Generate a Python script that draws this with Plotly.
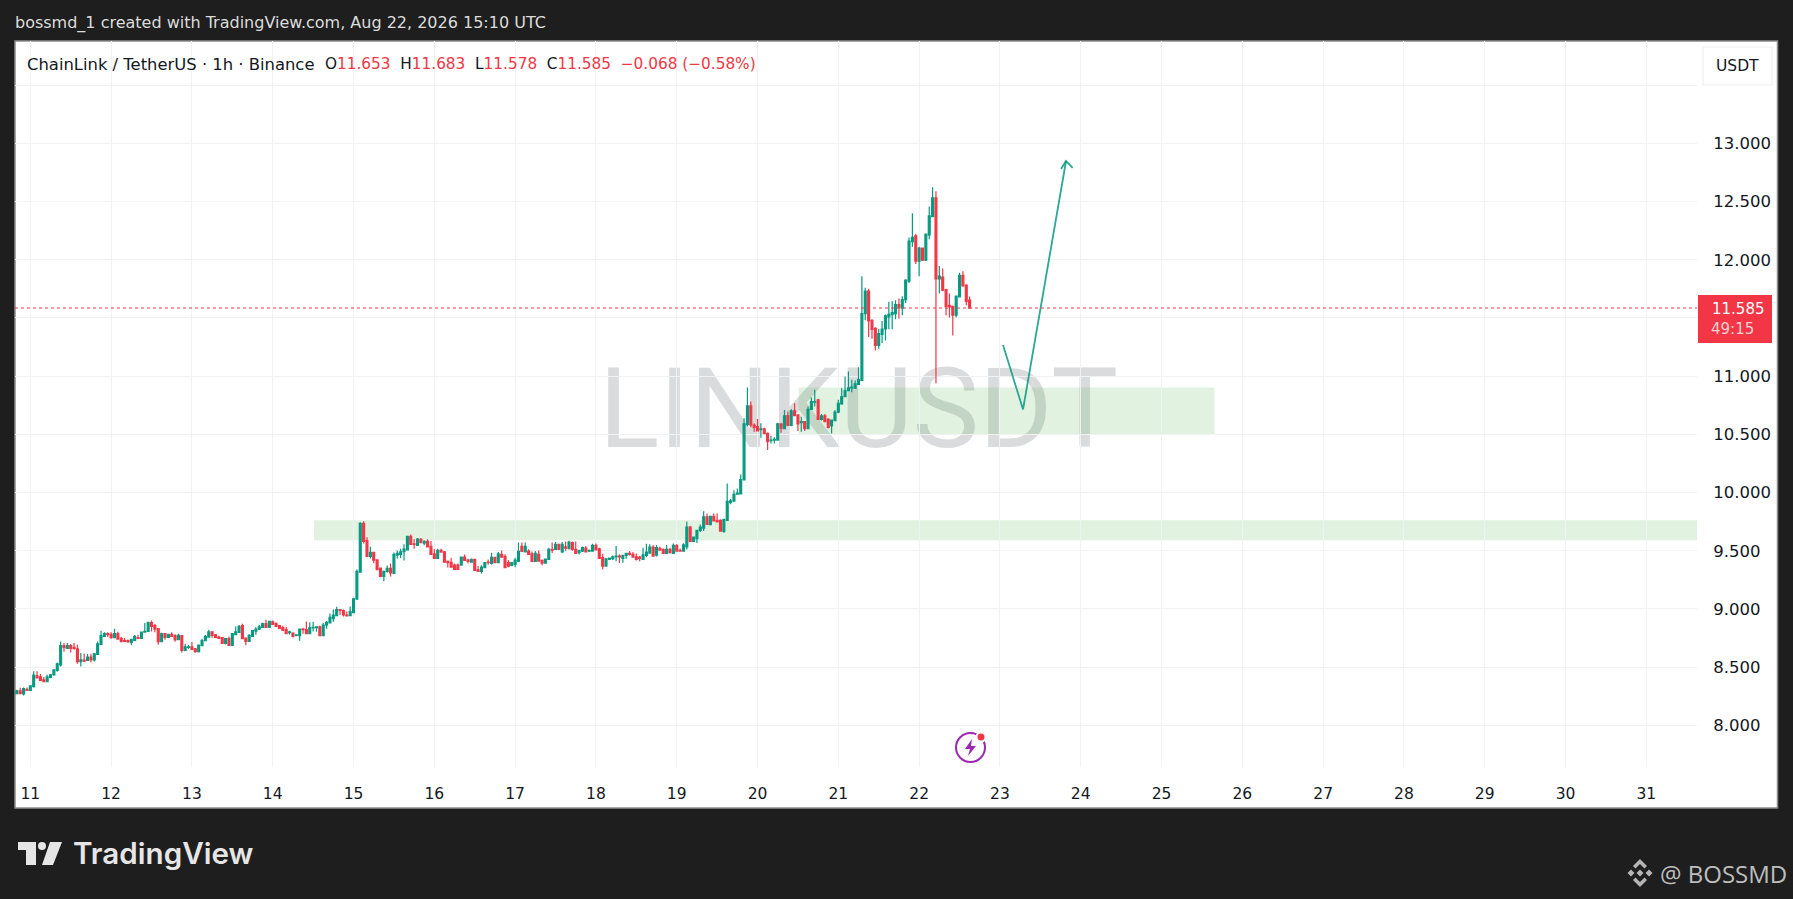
import pandas as pd
import plotly.graph_objects as go

# ---------- values ----------
first_candle = "2026-08-10 20:00"
opens = [
8.273,8.296,8.270,8.310,8.299,8.333,8.425,8.416,8.391,8.376,
8.411,8.434,8.471,8.520,8.684,8.661,8.684,8.669,8.658,8.546,
8.560,8.557,8.586,8.563,8.609,8.695,8.764,8.787,8.781,8.753,
8.787,8.747,8.727,8.727,8.713,8.730,8.753,8.747,8.801,8.807,
8.882,8.856,8.830,8.718,8.787,8.756,8.781,8.770,8.735,8.770,
8.644,8.669,8.675,8.658,8.632,8.684,8.727,8.758,8.804,8.778,
8.758,8.753,8.704,8.744,8.687,8.778,8.799,8.856,8.750,8.721,
8.764,8.810,8.827,8.842,8.873,8.842,8.890,8.873,8.856,8.839,
8.822,8.796,8.793,8.773,8.770,8.827,8.822,8.787,8.836,8.840,
8.847,8.770,8.862,8.879,8.917,8.943,8.994,8.985,8.948,8.943,
8.968,9.083,9.316,9.735,9.586,9.451,9.486,9.422,9.350,9.279,
9.322,9.348,9.305,9.462,9.468,9.491,9.508,9.624,9.560,9.546,
9.598,9.566,9.580,9.537,9.474,9.434,9.503,9.491,9.408,9.400,
9.377,9.377,9.377,9.445,9.420,9.402,9.425,9.336,9.322,9.354,
9.402,9.391,9.443,9.397,9.468,9.451,9.397,9.374,9.382,9.408,
9.537,9.489,9.497,9.474,9.408,9.468,9.417,9.394,9.425,9.512,
9.512,9.555,9.489,9.534,9.517,9.569,9.512,9.483,9.497,9.523,
9.497,9.497,9.546,9.517,9.440,9.368,9.425,9.431,9.448,9.454,
9.434,9.460,9.477,9.468,9.448,9.445,9.425,9.460,9.480,9.532,
9.463,9.520,9.512,9.477,9.512,9.477,9.546,9.503,9.497,9.533,
9.704,9.580,9.603,9.675,9.695,9.790,9.724,9.796,9.761,9.761,
9.666,9.761,9.916,9.925,9.985,9.988,10.109,10.583,10.744,10.580,
10.566,10.540,10.546,10.508,10.445,10.451,10.451,10.589,10.549,10.661,
10.577,10.701,10.667,10.600,10.609,10.549,10.715,10.776,10.796,10.629,
10.658,10.629,10.572,10.618,10.690,10.761,10.824,10.876,10.899,10.897,
10.928,10.963,11.537,11.730,11.480,11.411,11.264,11.359,11.405,11.508,
11.528,11.537,11.615,11.583,11.658,11.816,12.155,12.204,11.988,12.100,
11.997,12.213,12.371,12.532,11.836,11.850,11.744,11.609,11.600,11.523,
11.681,11.865,11.782,11.653]
highs = [
8.305,8.322,8.325,8.325,8.342,8.465,8.465,8.442,8.416,8.434,
8.440,8.480,8.540,8.720,8.707,8.707,8.698,8.707,8.692,8.621,
8.615,8.612,8.615,8.621,8.720,8.813,8.799,8.799,8.799,8.830,
8.804,8.758,8.750,8.738,8.738,8.776,8.778,8.801,8.879,8.890,
8.900,8.870,8.835,8.796,8.790,8.787,8.799,8.782,8.787,8.775,
8.701,8.693,8.715,8.665,8.690,8.744,8.776,8.822,8.808,8.785,
8.770,8.755,8.745,8.764,8.793,8.848,8.862,8.873,8.755,8.784,
8.815,8.842,8.865,8.882,8.908,8.893,8.900,8.885,8.862,8.856,
8.845,8.813,8.800,8.782,8.827,8.839,8.893,8.885,8.890,8.850,
8.856,8.882,8.896,8.960,8.994,9.018,9.000,8.994,8.977,9.020,
9.095,9.339,9.745,9.753,9.615,9.535,9.490,9.425,9.355,9.330,
9.374,9.391,9.485,9.503,9.517,9.555,9.625,9.640,9.598,9.610,
9.610,9.589,9.598,9.583,9.512,9.517,9.517,9.497,9.416,9.440,
9.391,9.391,9.450,9.468,9.431,9.434,9.428,9.368,9.376,9.402,
9.425,9.483,9.448,9.490,9.503,9.470,9.420,9.400,9.440,9.570,
9.570,9.570,9.512,9.494,9.497,9.503,9.425,9.430,9.525,9.570,
9.575,9.560,9.575,9.580,9.585,9.580,9.580,9.503,9.537,9.540,
9.510,9.560,9.563,9.525,9.474,9.435,9.440,9.460,9.540,9.470,
9.462,9.480,9.497,9.488,9.477,9.454,9.525,9.560,9.555,9.546,
9.550,9.535,9.520,9.550,9.525,9.563,9.555,9.520,9.565,9.750,
9.712,9.620,9.680,9.725,9.839,9.819,9.800,9.819,9.819,9.770,
9.770,10.078,9.945,10.020,10.035,10.155,10.638,10.902,10.782,10.595,
10.632,10.595,10.557,10.515,10.488,10.474,10.600,10.595,10.710,10.695,
10.715,10.767,10.672,10.652,10.615,10.738,10.816,10.882,10.805,10.675,
10.675,10.640,10.625,10.710,10.796,10.899,10.997,11.040,10.968,10.963,
11.077,11.859,11.760,11.750,11.488,11.420,11.408,11.474,11.530,11.638,
11.643,11.652,11.666,11.687,11.833,12.190,12.399,12.221,12.112,12.105,
12.225,12.457,12.623,12.589,11.945,11.925,11.750,11.710,11.605,11.690,
11.888,11.902,11.790,11.683]
lows = [
8.268,8.273,8.256,8.296,8.296,8.325,8.405,8.385,8.376,8.376,
8.405,8.425,8.460,8.506,8.632,8.660,8.626,8.650,8.528,8.506,
8.545,8.552,8.540,8.549,8.609,8.690,8.764,8.758,8.744,8.753,
8.740,8.712,8.720,8.707,8.687,8.725,8.745,8.745,8.796,8.807,
8.807,8.799,8.692,8.718,8.735,8.752,8.760,8.718,8.735,8.626,
8.640,8.655,8.650,8.623,8.625,8.684,8.727,8.758,8.753,8.755,
8.745,8.703,8.695,8.687,8.687,8.775,8.795,8.744,8.687,8.721,
8.763,8.778,8.820,8.840,8.842,8.842,8.865,8.845,8.830,8.815,
8.785,8.781,8.755,8.765,8.727,8.787,8.787,8.787,8.807,8.803,
8.770,8.770,8.830,8.875,8.890,8.943,8.950,8.936,8.936,8.940,
8.968,9.083,9.316,9.563,9.451,9.434,9.393,9.330,9.272,9.238,
9.310,9.279,9.305,9.434,9.437,9.416,9.508,9.555,9.517,9.546,
9.565,9.548,9.531,9.468,9.434,9.434,9.485,9.402,9.355,9.358,
9.338,9.338,9.375,9.416,9.390,9.400,9.329,9.320,9.304,9.350,
9.380,9.382,9.395,9.392,9.445,9.352,9.358,9.367,9.358,9.405,
9.494,9.485,9.468,9.408,9.408,9.410,9.375,9.390,9.425,9.480,
9.510,9.510,9.478,9.500,9.510,9.500,9.475,9.468,9.490,9.486,
9.490,9.495,9.505,9.434,9.339,9.365,9.420,9.420,9.410,9.395,
9.397,9.431,9.460,9.445,9.415,9.410,9.425,9.445,9.478,9.454,
9.450,9.500,9.475,9.473,9.477,9.475,9.497,9.495,9.495,9.510,
9.580,9.575,9.566,9.660,9.669,9.725,9.720,9.750,9.745,9.665,
9.655,9.755,9.900,9.920,9.980,9.988,10.109,10.570,10.560,10.523,
10.525,10.471,10.505,10.365,10.422,10.422,10.445,10.514,10.549,10.575,
10.570,10.660,10.528,10.523,10.529,10.549,10.710,10.740,10.628,10.618,
10.605,10.550,10.508,10.615,10.680,10.755,10.820,10.870,10.862,10.890,
10.925,10.960,11.480,11.336,11.322,11.221,11.235,11.284,11.307,11.402,
11.402,11.488,11.494,11.523,11.629,11.800,12.112,11.963,11.859,11.990,
11.990,12.175,12.370,10.939,11.710,11.730,11.523,11.503,11.350,11.503,
11.680,11.767,11.609,11.578]
closes = [
8.296,8.273,8.316,8.299,8.339,8.431,8.408,8.385,8.376,8.416,
8.434,8.477,8.529,8.684,8.669,8.684,8.661,8.661,8.546,8.563,
8.551,8.586,8.563,8.615,8.701,8.770,8.787,8.778,8.753,8.787,
8.741,8.721,8.721,8.718,8.738,8.764,8.747,8.801,8.807,8.885,
8.850,8.827,8.718,8.787,8.756,8.781,8.764,8.735,8.773,8.644,
8.675,8.675,8.652,8.632,8.690,8.727,8.764,8.804,8.773,8.756,
8.747,8.704,8.744,8.687,8.787,8.804,8.850,8.744,8.721,8.770,
8.813,8.827,8.847,8.873,8.842,8.893,8.867,8.850,8.833,8.816,
8.787,8.804,8.764,8.778,8.827,8.822,8.787,8.839,8.842,8.845,
8.770,8.862,8.885,8.928,8.948,8.994,8.988,8.948,8.940,8.977,
9.086,9.322,9.735,9.580,9.451,9.486,9.420,9.339,9.279,9.322,
9.348,9.310,9.468,9.477,9.491,9.514,9.624,9.555,9.555,9.600,
9.569,9.580,9.532,9.468,9.434,9.503,9.488,9.402,9.397,9.359,
9.339,9.339,9.445,9.417,9.408,9.425,9.330,9.322,9.360,9.397,
9.397,9.443,9.397,9.474,9.445,9.354,9.368,9.397,9.420,9.494,
9.494,9.537,9.469,9.408,9.477,9.411,9.394,9.428,9.512,9.506,
9.555,9.512,9.555,9.523,9.575,9.512,9.477,9.503,9.526,9.489,
9.503,9.546,9.508,9.434,9.368,9.431,9.437,9.448,9.454,9.448,
9.460,9.477,9.468,9.445,9.425,9.434,9.465,9.489,9.532,9.454,
9.526,9.506,9.477,9.512,9.483,9.546,9.497,9.497,9.550,9.704,
9.580,9.617,9.675,9.704,9.790,9.727,9.796,9.756,9.747,9.669,
9.770,9.925,9.928,9.985,9.994,10.112,10.589,10.744,10.580,10.560,
10.529,10.546,10.506,10.437,10.451,10.457,10.589,10.552,10.658,10.577,
10.701,10.661,10.589,10.609,10.549,10.715,10.782,10.782,10.629,10.658,
10.609,10.560,10.623,10.690,10.767,10.824,10.876,10.899,10.905,10.934,
10.971,11.537,11.730,11.474,11.402,11.264,11.365,11.405,11.517,11.531,
11.546,11.615,11.592,11.658,11.825,12.161,12.192,11.988,12.100,11.997,
12.221,12.376,12.532,11.836,11.859,11.738,11.600,11.595,11.523,11.687,
11.865,11.776,11.643,11.585]

price_ticks = [8.0, 8.5, 9.0, 9.5, 10.0, 10.5, 11.0, 11.5, 12.0, 12.5, 13.0, 13.5]
hidden_price_labels = [11.5, 13.5]      # covered by the price tag / the USDT button
day_numbers = list(range(11, 32))
last_price = 11.585

zone_low_t = ["2026-08-14 12:16", "2026-08-31 15:03"]
zone_low_p = [9.589, 9.761]
zone_high_t = ["2026-08-20 12:14", "2026-08-25 15:43"]
zone_high_p = [10.503, 10.902]

path_t = ["2026-08-23 00:55", "2026-08-23 06:52", "2026-08-23 19:38"]
path_p = [11.267, 10.714, 12.848]
head_t = ["2026-08-23 18:10", "2026-08-23 19:38", "2026-08-23 21:36"]
head_p = [12.780, 12.848, 12.788]

# ---------- page geometry ----------
W, H = 1793, 899
L, R, T, B = 15, 96, 41, 132
PW, PH = W - L - R, H - T - B
def fx(px): return (px - L) / PW
def fy(py): return 1 - (py - T) / PH
def poly(points):
    return "M" + " L".join(f"{fx(a):.5f},{fy(b):.5f}" for a, b in points) + " Z"

UP, DOWN = "#089981", "#f23645"
DARK, INK, GRID = "#1e1e1e", "#131722", "#f1f2f3"
LOGO = "#e6e6e6"
FONT = "DejaVu Sans"

times = pd.date_range(first_candle, periods=len(opens), freq="h")
fig = go.Figure()
fig.add_trace(go.Candlestick(
    x=times, open=opens, high=highs, low=lows, close=closes, whiskerwidth=0,
    increasing=dict(line=dict(color=UP, width=1.2), fillcolor=UP),
    decreasing=dict(line=dict(color=DOWN, width=1.2), fillcolor=DOWN),
    showlegend=False))
for xs, ys in ((path_t, path_p), (head_t, head_p)):
    fig.add_trace(go.Scatter(x=pd.to_datetime(xs), y=ys, mode="lines", showlegend=False,
                             line=dict(color=UP, width=1.8), opacity=0.85, hoverinfo="skip"))

def rect(x0, y0, x1, y1, **kw):
    return dict(type="rect", xref="paper", yref="paper", x0=fx(x0), x1=fx(x1),
                y0=fy(y0), y1=fy(y1), **kw)
def ell(cx, cy, rx, ry, **kw):
    return dict(type="circle", xref="paper", yref="paper", x0=fx(cx - rx), x1=fx(cx + rx),
                y0=fy(cy + ry), y1=fy(cy - ry), **kw)
def pth(points, color):
    return dict(type="path", xref="paper", yref="paper", path=poly(points),
                fillcolor=color, line=dict(width=0), layer="above")

shapes = [
    rect(15, 41, 1777.5, 808, fillcolor="#ffffff", line=dict(color="#8c8c8c", width=1.5), layer="below"),
    rect(602, 350, 1115, 450, fillcolor="rgba(0,0,0,0)", line=dict(width=0), layer="below",
         label=dict(text="LINKUSDT", font=dict(family="Roboto", size=112, color="#dadbdd"),
                    textposition="middle center")),
    dict(type="rect", xref="x", yref="y", x0=zone_low_t[0], x1=zone_low_t[1], y0=zone_low_p[0], y1=zone_low_p[1],
         fillcolor="rgba(76,175,80,0.17)", line=dict(width=0), layer="below"),
    dict(type="rect", xref="x", yref="y", x0=zone_high_t[0], x1=zone_high_t[1], y0=zone_high_p[0], y1=zone_high_p[1],
         fillcolor="rgba(76,175,80,0.17)", line=dict(width=0), layer="below"),
    dict(type="line", xref="paper", yref="y", x0=0, x1=1, y0=last_price, y1=last_price,
         line=dict(color=DOWN, width=1, dash="dot"), layer="above"),
    # USDT button and price tag
    rect(1703, 47, 1772, 85, fillcolor="#ffffff", line=dict(color="#f0f1f2", width=1.2), layer="above"),
    rect(1698, 295, 1772, 343, fillcolor=DOWN, line=dict(width=0), layer="above"),
    # lightning badge
    ell(970.5, 747.5, 14.5, 14.5, fillcolor="#ffffff", line=dict(color="#9c27b0", width=2), layer="above"),
    pth([(972, 739), (965, 749), (970, 749), (968, 756), (976, 746), (971, 746)], "#9c27b0"),
    ell(981, 737, 5.5, 5.5, fillcolor="#ffffff", line=dict(width=0), layer="above"),
    ell(981, 737, 3.5, 3.5, fillcolor=DOWN, line=dict(width=0), layer="above"),
    # TradingView mark
    pth([(18, 842), (36, 842), (36, 865), (26, 865), (26, 850), (18, 850)], LOGO),
    ell(42, 846, 4, 4, fillcolor=LOGO, line=dict(width=0), layer="above"),
    pth([(50, 842), (62, 842), (53, 865), (42, 865)], LOGO),
    # Binance mark
    pth([(1631, 869.5), (1634.5, 873), (1631, 876.5), (1627.5, 873)], "#b5b5b5"),
    pth([(1649, 869.5), (1652.5, 873), (1649, 876.5), (1645.5, 873)], "#b5b5b5"),
    pth([(1640, 869.5), (1643.5, 873), (1640, 876.5), (1636.5, 873)], "#b5b5b5"),
    pth([(1640, 859), (1647, 866), (1644.5, 868.5), (1640, 864), (1635.5, 868.5), (1633, 866)], "#b5b5b5"),
    pth([(1640, 887), (1647, 880), (1644.5, 877.5), (1640, 882), (1635.5, 877.5), (1633, 880)], "#b5b5b5"),
]

def text(px, py, s, size, color, anchor="left", family=FONT, weight="normal"):
    return dict(xref="paper", yref="paper", x=fx(px), y=fy(py), text=s, showarrow=False,
                xanchor=anchor, yanchor="middle", align=anchor, borderpad=0, borderwidth=0,
                font=dict(family=family, size=size, color=color, weight=weight))

def r(s): return f'<span style="color:{DOWN}">{s}</span>'
legend_name = "ChainLink / TetherUS · 1h · Binance"
legend_values = ("O" + r("11.653") + "\u00a0 H" + r("11.683") + "\u00a0 L" + r("11.578") +
                 "\u00a0 C" + r("11.585") + "\u00a0 " + r("−0.068 (−0.58%)"))

annotations = [
    text(15, 23, "bossmd_1 created with TradingView.com, Aug 22, 2026 15:10 UTC", 16, "#dcdcdc"),
    text(27, 64, legend_name, 16.4, INK),
    text(325, 64, legend_values, 15.3, INK),
    text(1737.5, 66, "USDT", 15.5, INK, "center"),
    text(1712, 309, f"{last_price:.3f}", 15, "#ffffff"),
    text(1711, 329, "49:15", 15, "#fbd0d4"),
    text(73, 853, "TradingView", 29.6, LOGO, family="Inter", weight=600),
    text(1660, 873, "@ BOSSMD", 24, "#bdbdbd", family="Open Sans"),
]

fig.update_layout(
    width=W, height=H, autosize=False,
    margin=dict(l=L, r=R, t=T, b=B, pad=0),
    paper_bgcolor=DARK, plot_bgcolor="#ffffff",
    showlegend=False, shapes=shapes, annotations=annotations, boxgap=0.2,
    font=dict(family=FONT, color=INK),
    xaxis=dict(type="date", range=["2026-08-10 19:27", "2026-08-31 15:03"],
               rangeslider=dict(visible=False),
               tickmode="array",
               tickvals=[f"2026-08-{d:02d}" for d in day_numbers],
               ticktext=[str(d) for d in day_numbers],
               showgrid=True, gridcolor=GRID, gridwidth=1, zeroline=False, showline=False,
               ticks="outside", ticklen=12, tickcolor="rgba(0,0,0,0)",
               tickfont=dict(family=FONT, size=15.5, color=INK)),
    yaxis=dict(side="right", range=[7.642, 13.879],
               tickmode="array", tickvals=price_ticks,
               ticktext=["" if v in hidden_price_labels else f"{v:.3f}" for v in price_ticks],
               showgrid=True, gridcolor=GRID, gridwidth=1, zeroline=False, showline=False,
               ticks="outside", ticklen=12, tickcolor="rgba(0,0,0,0)",
               tickfont=dict(family=FONT, size=16.5, color=INK)),
)

fig.write_html("out.html", config=dict(displayModeBar=False),
               post_script="document.body.style.margin='0';document.body.style.background='#1e1e1e';")
